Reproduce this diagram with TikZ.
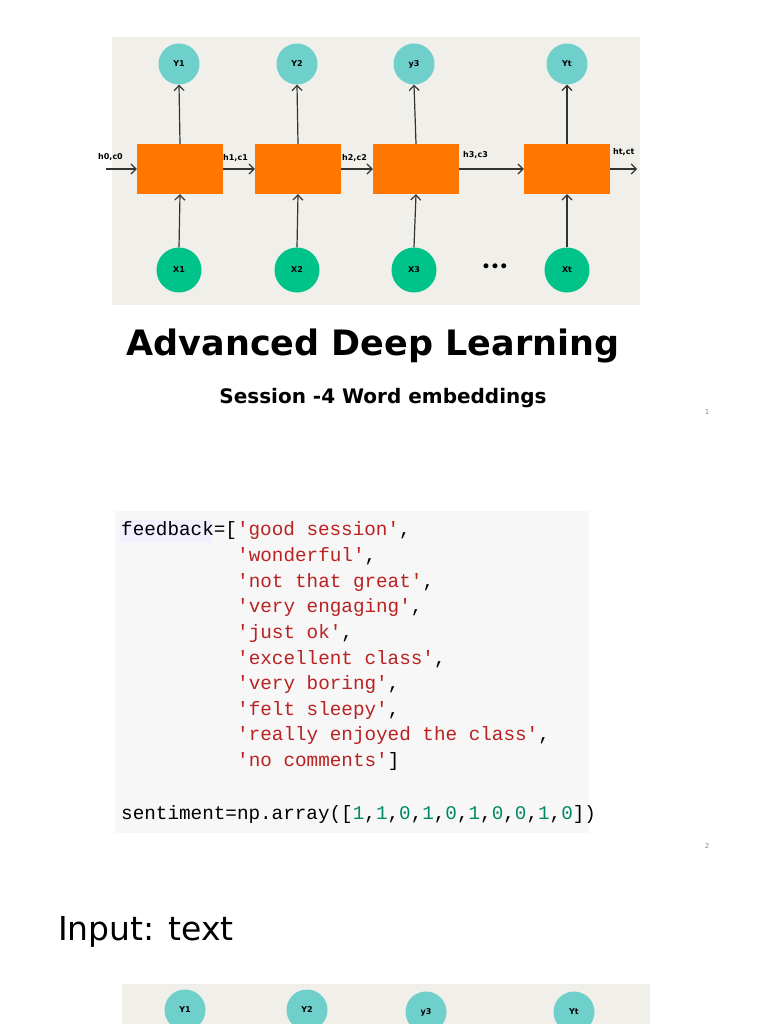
\documentclass[tikz,border=0pt]{standalone}
\usepackage{fontspec}
\setmainfont{DejaVu Sans}
\newfontfamily\codefont{Liberation Mono}
\usetikzlibrary{arrows.meta}
\definecolor{bgc}{HTML}{F0EFE9}
\definecolor{ycol}{HTML}{6ECFCB}
\definecolor{xcol}{HTML}{00C389}
\definecolor{boxc}{HTML}{FF7700}
\definecolor{strc}{HTML}{BA2121}
\definecolor{numc}{HTML}{008866}
\definecolor{codebg}{HTML}{F7F7F7}
\begin{document}
\begin{tikzpicture}[x=1pt,y=-1pt,
  ycirc/.style={circle,fill=ycol,minimum size=41pt,inner sep=0pt,font=\bfseries\fontsize{8}{9}\selectfont},
  xcirc/.style={circle,fill=xcol,minimum size=45pt,inner sep=0pt,font=\bfseries\fontsize{8}{9}\selectfont},
  cell/.style={rectangle,fill=boxc,minimum width=86pt,minimum height=50pt,inner sep=0pt},
  arr/.style={draw=black!80,line width=1.2pt,-{Straight Barb[length=5pt,width=10pt]}},
  hlab/.style={font=\bfseries\fontsize{8}{9}\selectfont,inner sep=0pt},
  code/.style={anchor=west,inner sep=0pt,font=\codefont\fontsize{19.3}{22}\selectfont}]
\useasboundingbox (0,0) rectangle (768,1024);
\fill[white] (0,0) rectangle (768,1024);
% top diagram
\fill[bgc] (112,37) rectangle (640,305);
\foreach \n/\x/\t in {1/179/Y1,2/297/Y2,3/414/y3,4/567/Yt}{
  \node[ycirc] (y\n) at (\x,64) {\t};}
\foreach \n/\x/\t in {1/179/X1,2/297/X2,3/414/X3,4/567/Xt}{
  \node[xcirc] (x\n) at (\x,270) {\t};}
\foreach \n/\x in {1/180,2/298,3/416,4/567}{
  \node[cell] (c\n) at (\x,169) {};}
\foreach \n in {1,2,3,4}{
  \draw[arr] (c\n.north) -- (y\n.south);
  \draw[arr] (x\n.north) -- (c\n.south);}
\coordinate (in0) at (106,169);
\coordinate (outt) at (637,169);
\draw[arr] (in0) -- (c1.west);
\draw[arr] (c1.east) -- (c2.west);
\draw[arr] (c2.east) -- (c3.west);
\draw[arr] (c3.east) -- (c4.west);
\draw[arr] (c4.east) -- (outt);
\node[hlab,anchor=west] (l0) at (98,157) {h0,c0};
\node[hlab,anchor=west] (l1) at (223,158) {h1,c1};
\node[hlab,anchor=west] (l2) at (342,158) {h2,c2};
\node[hlab,anchor=west] (l3) at (463,155) {h3,c3};
\node[hlab,anchor=west] (l4) at (613,152) {ht,ct};
\node[font=\bfseries\fontsize{14}{14}\selectfont] (dots) at (495,268) {•••};
% titles
\node[font=\bfseries\fontsize{35}{40}\selectfont] (title) at (373,346) {Advanced Deep Learning};
\node[font=\bfseries\fontsize{20}{24}\selectfont] (sub) at (383,398) {Session -4 Word embeddings};
\node[text=black!45,font=\fontsize{7}{8}\selectfont] (p1) at (707,412) {1};
% code block
\fill[codebg] (115,511) rectangle (589,833);
\fill[blue!6] (120,520) rectangle (212,543);
\node[code] (f0) at (121,531) {feedback=[\textcolor{strc}{'good session'},};
\foreach \i/\s in {1/wonderful,2/not that great,3/very engaging,4/just ok,5/excellent class,6/very boring,7/felt sleepy,8/really enjoyed the class}{
  \node[code] (f\i) at (237,{531+25.6*\i}) {\textcolor{strc}{'\s'},};}
\node[code] (f9) at (237,{531+25.6*9}) {\textcolor{strc}{'no comments'}]};
\node[code] (sent) at (121,814) {sentiment=np.array([\textcolor{numc}{1},\textcolor{numc}{1},\textcolor{numc}{0},\textcolor{numc}{1},\textcolor{numc}{0},\textcolor{numc}{1},\textcolor{numc}{0},\textcolor{numc}{0},\textcolor{numc}{1},\textcolor{numc}{0}])};
\node[text=black!45,font=\fontsize{7}{8}\selectfont] (p2) at (707,846) {2};
\node[anchor=west,inner sep=0pt,font=\fontsize{33}{38}\selectfont] (inp) at (58,932) {Input: text};
% bottom partial diagram
\begin{scope}
\clip (0,0) rectangle (768,1024);
\fill[bgc] (122,984) rectangle (650,1030);
\node[ycirc] (b1) at (185,1010) {Y1};
\node[ycirc] (b2) at (307,1010) {Y2};
\node[ycirc] (b3) at (426,1012) {y3};
\node[ycirc] (b4) at (574,1012) {Yt};
\end{scope}
\end{tikzpicture}
\end{document}
